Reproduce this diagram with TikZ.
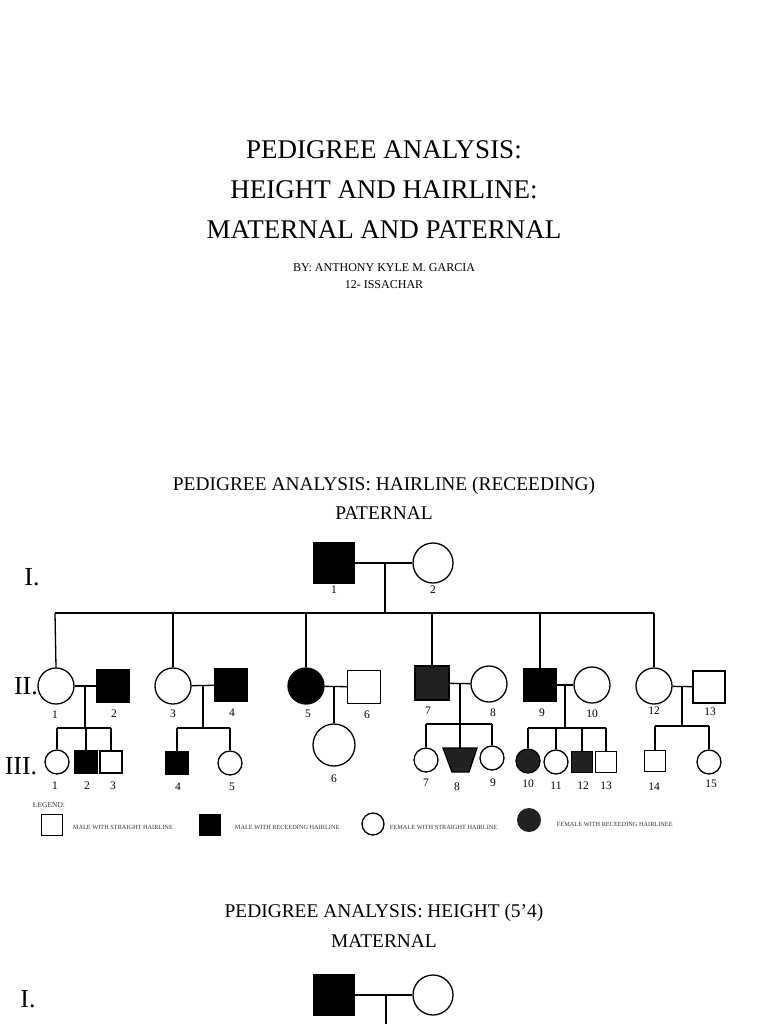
\documentclass[tikz,border=0pt]{standalone}
\usepackage{fontspec}
\setmainfont{Liberation Serif}
\begin{document}
\begin{tikzpicture}[x=1pt,y=-1pt,line width=1.3pt,
  M/.style={draw,minimum size=#1,inner sep=0pt,fill=white},
  F/.style={draw,circle,minimum size=#1,inner sep=0pt,fill=white},
  aff/.style={fill=black},
  dk/.style={fill=black!87},
  lab/.style={font=\fontsize{11.5}{12}\selectfont},
  gen/.style={font=\fontsize{26}{26}\selectfont},
  leg/.style={font=\fontsize{6.3}{7}\selectfont,anchor=west,text=black!80},
  ttl/.style={font=\fontsize{27}{29}\selectfont},
  sub/.style={font=\fontsize{19.4}{21}\selectfont}]
\useasboundingbox (0,0) rectangle (768,1024);
\fill[white] (0,0) rectangle (768,1024);
% titles
\node[ttl] (t1) at (384,150) {PEDIGREE ANALYSIS:};
\node[ttl] (t2) at (384,190) {HEIGHT AND HAIRLINE:};
\node[ttl] (t3) at (384,230) {MATERNAL AND PATERNAL};
\node[font=\fontsize{12}{13}\selectfont] (b1) at (384,268) {BY: ANTHONY KYLE M. GARCIA};
\node[font=\fontsize{12}{13}\selectfont] (b2) at (384,285) {12- ISSACHAR};
\node[sub] (s1) at (384,486) {PEDIGREE ANALYSIS: HAIRLINE (RECEEDING)};
\node[sub] (s2) at (384,513) {PATERNAL};
% generation labels
\node[gen] (g1) at (32,577) {I.};
\node[gen] (g2) at (26,686) {II.};
\node[gen] (g3) at (21,766) {III.};
% gen I
\node[M=40pt,aff] (a1) at (334,563) {};
\node[F=40pt] (a2) at (433,563) {};
\node[lab] at (334,590) {1};
\node[lab] at (433,590) {2};
\coordinate (am) at (385,563);
\draw (a1) -- (a2);
\draw (am) -- (385,613);
\draw (55,613) -- (654,613);
% gen II
\node[F=36pt] (b1c) at (56,686) {};
\node[M=32pt,aff] (b2s) at (113,686) {};
\node[F=36pt] (b3c) at (173,686) {};
\node[M=33pt,aff] (b4s) at (231,685) {};
\node[F=36pt,aff] (b5c) at (306,686) {};
\node[M=33pt] (b6s) at (364,687) {};
\node[M=34pt,dk] (b7s) at (432,683) {};
\node[F=36pt] (b8c) at (489,684) {};
\node[M=33pt,aff] (b9s) at (540,685) {};
\node[F=36pt] (b10c) at (592,685) {};
\node[F=36pt] (b12c) at (654,686) {};
\node[M=32pt] (b13s) at (709,687) {};
\foreach \x/\y/\t in {55/715/1,114/714/2,173/714/3,232/713/4,308/714/5,367/715/6,428/711/7,493/713/8,542/713/9,592/714/10,654/711/12,710/712/13}
  \node[lab] at (\x,\y) {\t};
\draw (55,613) -- (b1c.north);
\draw (173,613) -- (b3c.north);
\draw (306,613) -- (b5c.north);
\draw (432,613) -- (b7s.north);
\draw (540,613) -- (b9s.north);
\draw (654,613) -- (b12c.north);
\draw (b1c) -- (b2s); \draw (b3c) -- (b4s); \draw (b5c) -- (b6s);
\draw (b7s) -- (b8c); \draw (b9s) -- (b10c); \draw (b12c) -- (b13s);
% gen III
\node[F=24pt] (c1) at (57,762) {};
\node[M=22pt,aff] (c2) at (86,762) {};
\node[M=22pt] (c3) at (111,762) {};
\node[M=22pt,aff] (c4) at (177,763) {};
\node[F=24pt] (c5) at (230,763) {};
\node[F=42pt] (c6) at (334,745) {};
\node[F=24pt] (c7) at (426,760) {};
\coordinate (c8) at (460,748);
\draw[dk] (443,748) -- (477,748) -- (469,772) -- (452,772) -- cycle;
\node[F=24pt] (c9) at (492,758) {};
\node[F=24pt,dk] (c10) at (528,761) {};
\node[F=24pt] (c11) at (556,762) {};
\node[M=21pt,dk] (c12) at (582,762) {};
\node[M=21pt] (c13) at (606,762) {};
\node[M=21pt] (c14) at (655,761) {};
\node[F=24pt] (c15) at (709,762) {};
\foreach \x/\y/\t in {55/786/1,87/786/2,113/786/3,178/787/4,232/787/5,334/779/6,426/783/7,457/787/8,493/783/9,528/784/10,556/786/11,583/786/12,606/786/13,654/787/14,711/784/15}
  \node[lab] at (\x,\y) {\t};
% family 1-2
\draw (85,686) -- (85,728); \draw (57,728) -- (111,728);
\draw (57,728) -- (c1.north); \draw (86,728) -- (c2.north); \draw (111,728) -- (c3.north);
% family 3-4
\draw (203,685) -- (203,728); \draw (177,728) -- (230,728);
\draw (177,728) -- (c4.north); \draw (230,728) -- (c5.north);
% family 5-6
\draw (334,686) -- (c6.north);
% family 7-8
\draw (426,724) -- (492,724);
\draw (460,683) -- (c8); \draw (426,724) -- (c7.north); \draw (492,724) -- (c9.north);
% family 9-10
\draw (565,684) -- (565,728); \draw (528,728) -- (606,728);
\draw (528,728) -- (c10.north); \draw (556,728) -- (c11.north); \draw (582,728) -- (c12.north); \draw (606,728) -- (c13.north);
% family 12-13
\draw (682,686) -- (682,726); \draw (655,726) -- (709,726);
\draw (655,726) -- (c14.north); \draw (709,726) -- (c15.north);
% legend
\node[leg,font=\fontsize{7.5}{8}\selectfont] (lg) at (29,805) {LEGEND:};
\node[M=21pt] (l1) at (52,825) {};
\node[leg] at (69,827) {MALE WITH STRAIGHT HAIRLINE};
\node[M=20pt,aff] (l2) at (210,825) {};
\node[leg] at (231,827) {MALE WITH RECEEDING HAIRLINE};
\node[F=22pt] (l3) at (373,824) {};
\node[leg] at (386,827) {FEMALE WITH STRAIGHT HAIRLINE};
\node[F=24pt,dk,draw=none] (l4) at (529,820) {};
\node[leg] at (553,824) {FEMALE WITH RECEEDING HAIRLINEE};
% second pedigree
\node[sub] (s3) at (384,913) {PEDIGREE ANALYSIS: HEIGHT (5'4)};
\node[sub] (s4) at (384,941) {MATERNAL};
\node[gen] (g4) at (28,999) {I.};
\node[M=40pt,aff] (d1) at (334,995) {};
\node[F=40pt] (d2) at (433,995) {};
\draw (d1) -- (d2);
\draw (386,995) -- (386,1026);
\end{tikzpicture}
\end{document}
